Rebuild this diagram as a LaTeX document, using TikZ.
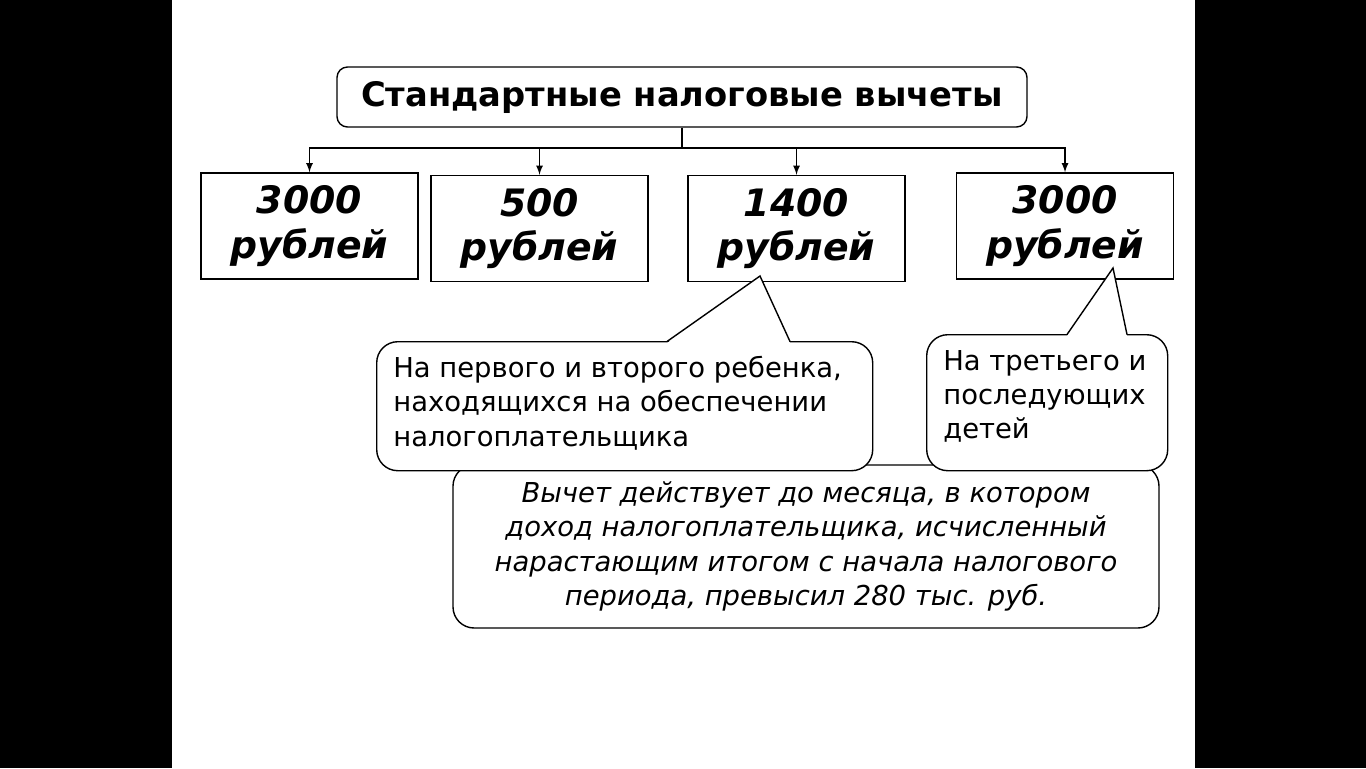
\documentclass[tikz,border=0pt]{standalone}
\usepackage{fontspec}
\setmainfont{DejaVu Sans}
\begin{document}
\begin{tikzpicture}[x=0.02cm, y=-0.02cm,
		sum/.style={draw, thick, fill=white, minimum width=217*0.02cm, minimum height=106*0.02cm, align=center, font=\fontsize{21.5}{25.5}\selectfont\bfseries\itshape},
		note/.style={draw, thick, fill=white, rounded corners=12pt, anchor=north west, align=left, inner sep=0pt, font=\fontsize{15.6}{19.5}\selectfont}]
		\fill[black] (0,0) rectangle (1366,768);
		\fill[white] (172,0) rectangle (1195,768);
		\node[draw, thick, rounded corners=6pt, minimum width=690*0.02cm, minimum height=60*0.02cm, font=\fontsize{19.2}{22}\selectfont\bfseries] (Title) at (682,97) {Стандартные налоговые вычеты};
		\node[sum] (First) at (309.5,226) {3000\\рублей};
		\node[sum] (Second) at (539.5,228.5) {500\\рублей};
		\node[sum] (Third) at (796.5,228.5) {1400\\рублей};
		\node[sum] (Fourth) at (1065,226) {3000\\рублей};
		% Arrows
		\coordinate (Split) at (682,148);
		\draw[thick] (Title) -- (Split);
		\draw[thick, -latex] (Split) -- (309.5,148) -- (First);
		\draw[thick, -latex] (Split) -- (539.5,148) -- (Second);
		\draw[thick, -latex] (Split) -- (796.5,148) -- (Third);
		\draw[thick, -latex] (Split) -- (1065,148) -- (Fourth);
		% Notes
		\node[draw, thick, fill=white, rounded corners=12pt, minimum width=706*0.02cm, minimum height=163*0.02cm, align=center, font=\fontsize{15.6}{19.5}\selectfont\itshape] (Limit) at (806,546.5) {Вычет действует до месяца, в котором\\доход налогоплательщика, исчисленный\\нарастающим итогом с начала налогового\\периода, превысил 280 тыс. руб.};
		\node[note, minimum width=496*0.02cm, minimum height=129*0.02cm] (Kids) at (376,341) {};
		\node[anchor=north west, align=left, inner sep=0pt, font=\fontsize{15.6}{19.5}\selectfont] (KidsText) at (393,356) {На первого и второго ребенка,\\находящихся на обеспечении\\налогоплательщика};
		\fill[white] (667,343) -- (760,276) -- (790,343) -- cycle;
		\draw[thick] (667,341.5) -- (760,276) -- (790,341.5);
		\node[note, minimum width=241*0.02cm, minimum height=136*0.02cm] (Third kid) at (926,334) {};
		\node[anchor=north west, align=left, inner sep=0pt, font=\fontsize{15.6}{19.5}\selectfont] (ThirdText) at (943,350) {На третьего и\\последующих\\детей};
		\fill[white] (1067,336) -- (1113,268) -- (1127,336) -- cycle;
		\draw[thick] (1067,334.5) -- (1113,268) -- (1127,334.5);
	\end{tikzpicture}
\end{document}
